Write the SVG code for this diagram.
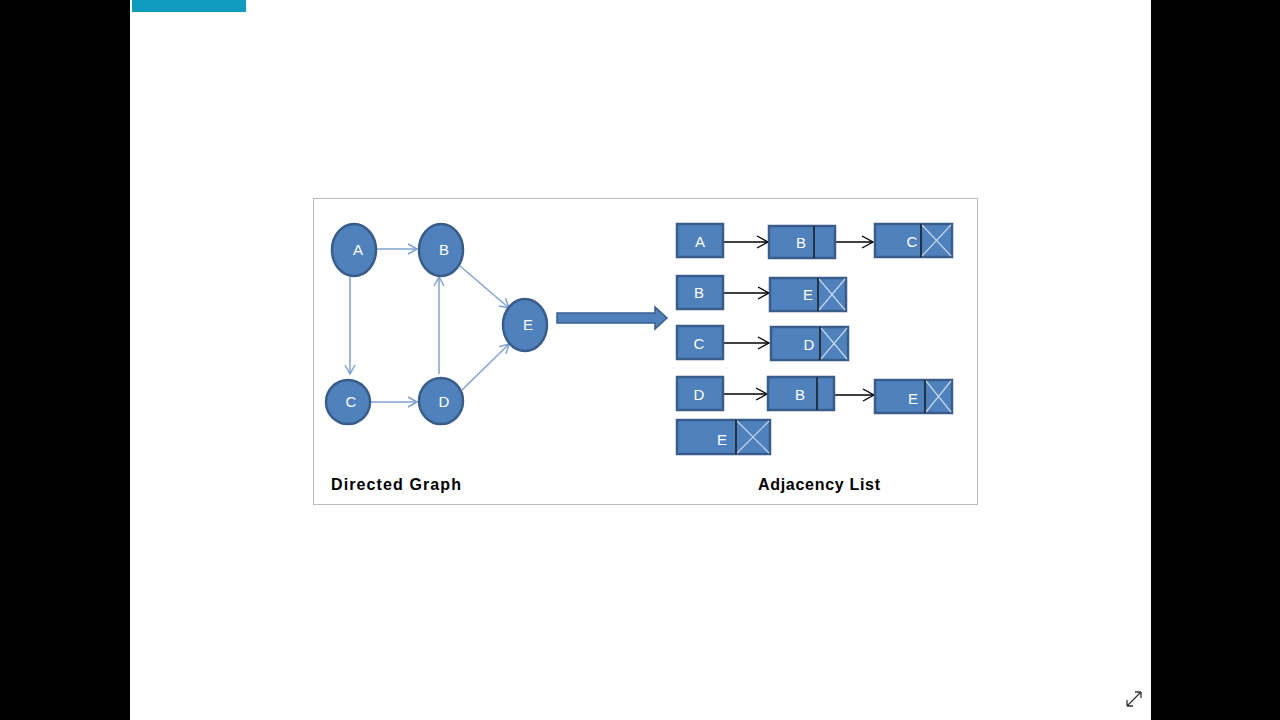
<svg xmlns="http://www.w3.org/2000/svg" width="1280" height="720" viewBox="0 0 1280 720">
<style>
.n{fill:#4f81bd;stroke:#385d8a;stroke-width:2.5}
.t{font-family:"Liberation Sans",Arial,sans-serif;font-size:15px;fill:#fff;text-anchor:middle}
.e{stroke:#7fa3cf;stroke-width:1.5;fill:none;marker-end:url(#ha)}
.l{stroke:#000;stroke-width:1.3;fill:none;marker-end:url(#hb)}
.d{stroke:#1a1a1a;stroke-width:1.5}
.x{stroke:#c6d6ea;stroke-width:1.2}
.lab{font-family:"Liberation Sans",Arial,sans-serif;font-size:16px;font-weight:bold;fill:#000}
</style>
<defs>
<marker id="ha" markerWidth="12" markerHeight="12" refX="10" refY="6" orient="auto" markerUnits="userSpaceOnUse"><path d="M1,1 L10,6 L1,11" fill="none" stroke="#7fa3cf" stroke-width="1.5"/></marker>
<marker id="hb" markerWidth="14" markerHeight="14" refX="12" refY="7" orient="auto" markerUnits="userSpaceOnUse"><path d="M1,1 L12,7 L1,13" fill="none" stroke="#000" stroke-width="1.3"/></marker>
</defs>
<rect width="1280" height="720" fill="#fff"/>
<rect x="0" y="0" width="130" height="720" fill="#000"/>
<rect x="1151" y="0" width="129" height="720" fill="#000"/>
<rect x="132" y="0" width="114" height="12" fill="#0e9bbf"/>
<rect x="313.5" y="198.5" width="664" height="306" fill="#fff" stroke="#bbb"/>
<g id="connectors">
<line class="e" x1="377" y1="249" x2="417" y2="249"/>
<line class="e" x1="350" y1="277" x2="350" y2="374"/>
<line class="e" x1="371" y1="402" x2="417" y2="402"/>
<line class="e" x1="439" y1="374" x2="439" y2="277"/>
<line class="e" x1="460" y1="266" x2="509" y2="308"/>
<line class="e" x1="462" y1="390" x2="509" y2="344"/>
<line class="l" x1="723" y1="242" x2="768" y2="242"/>
<line class="l" x1="825" y1="242" x2="873" y2="242"/>
<line class="l" x1="723" y1="293" x2="769" y2="293"/>
<line class="l" x1="723" y1="343" x2="769" y2="343"/>
<line class="l" x1="723" y1="394" x2="767" y2="394"/>
<line class="l" x1="826" y1="395" x2="874" y2="395"/>
<path d="M557,313 L655,313 L655,307 L667,318 L655,329 L655,323 L557,323 Z" fill="#4f81bd" stroke="#385d8a" stroke-width="1.5"/>
</g>
<g id="A"><ellipse class="n" cx="354" cy="250" rx="22" ry="26"/><text class="t" x="358" y="255">A</text></g>
<g id="B"><ellipse class="n" cx="441" cy="250" rx="22" ry="26"/><text class="t" x="444" y="255">B</text></g>
<g id="C"><ellipse class="n" cx="348" cy="402" rx="22" ry="22"/><text class="t" x="351" y="407">C</text></g>
<g id="D"><ellipse class="n" cx="441" cy="401" rx="22" ry="23"/><text class="t" x="444" y="407">D</text></g>
<g id="E"><ellipse class="n" cx="525" cy="325" rx="22" ry="26"/><text class="t" x="528" y="330">E</text></g>
<g id="la"><rect class="n" x="677" y="224" width="46" height="33"/><text class="t" x="700" y="247">A</text></g>
<g id="la1"><rect class="n" x="769" y="226" width="66" height="32"/><line class="d" x1="814" y1="226" x2="814" y2="258"/><text class="t" x="801" y="248">B</text></g>
<g id="la2"><rect class="n" x="875" y="224" width="77" height="33"/><line class="x" x1="922" y1="225" x2="951" y2="256"/><line class="x" x1="951" y1="225" x2="922" y2="256"/><line class="d" x1="921" y1="224" x2="921" y2="257"/><text class="t" x="912" y="247">C</text></g>
<g id="lb"><rect class="n" x="677" y="276" width="46" height="33"/><text class="t" x="699" y="298">B</text></g>
<g id="lb1"><rect class="n" x="770" y="278" width="76" height="33"/><line class="x" x1="819" y1="279" x2="845" y2="310"/><line class="x" x1="845" y1="279" x2="819" y2="310"/><line class="d" x1="818" y1="278" x2="818" y2="311"/><text class="t" x="808" y="300">E</text></g>
<g id="lc"><rect class="n" x="677" y="326" width="46" height="33"/><text class="t" x="699" y="349">C</text></g>
<g id="lc1"><rect class="n" x="771" y="327" width="77" height="33"/><line class="x" x1="821" y1="328" x2="847" y2="359"/><line class="x" x1="847" y1="328" x2="821" y2="359"/><line class="d" x1="820" y1="327" x2="820" y2="360"/><text class="t" x="809" y="350">D</text></g>
<g id="ld"><rect class="n" x="677" y="377" width="46" height="33"/><text class="t" x="699" y="400">D</text></g>
<g id="ld1"><rect class="n" x="768" y="377" width="66" height="33"/><line class="d" x1="817" y1="377" x2="817" y2="410"/><text class="t" x="800" y="400">B</text></g>
<g id="ld2"><rect class="n" x="875" y="380" width="77" height="33"/><line class="x" x1="926" y1="381" x2="951" y2="412"/><line class="x" x1="951" y1="381" x2="926" y2="412"/><line class="d" x1="925" y1="380" x2="925" y2="413"/><text class="t" x="913" y="404">E</text></g>
<g id="le"><rect class="n" x="677" y="420" width="93" height="34"/><line class="x" x1="737" y1="421" x2="769" y2="453"/><line class="x" x1="769" y1="421" x2="737" y2="453"/><line class="d" x1="736" y1="420" x2="736" y2="454"/><text class="t" x="722" y="445">E</text></g>
<text class="lab" x="331" y="490" textLength="130" lengthAdjust="spacing">Directed Graph</text>
<text class="lab" x="758" y="490" textLength="122" lengthAdjust="spacing">Adjacency List</text>
<path d="M1127,706 L1141,692 M1127,706 L1127,700 M1127,706 L1133,706 M1141,692 L1135,692 M1141,692 L1141,698" stroke="#333" stroke-width="1.3" fill="none"/>
</svg>
